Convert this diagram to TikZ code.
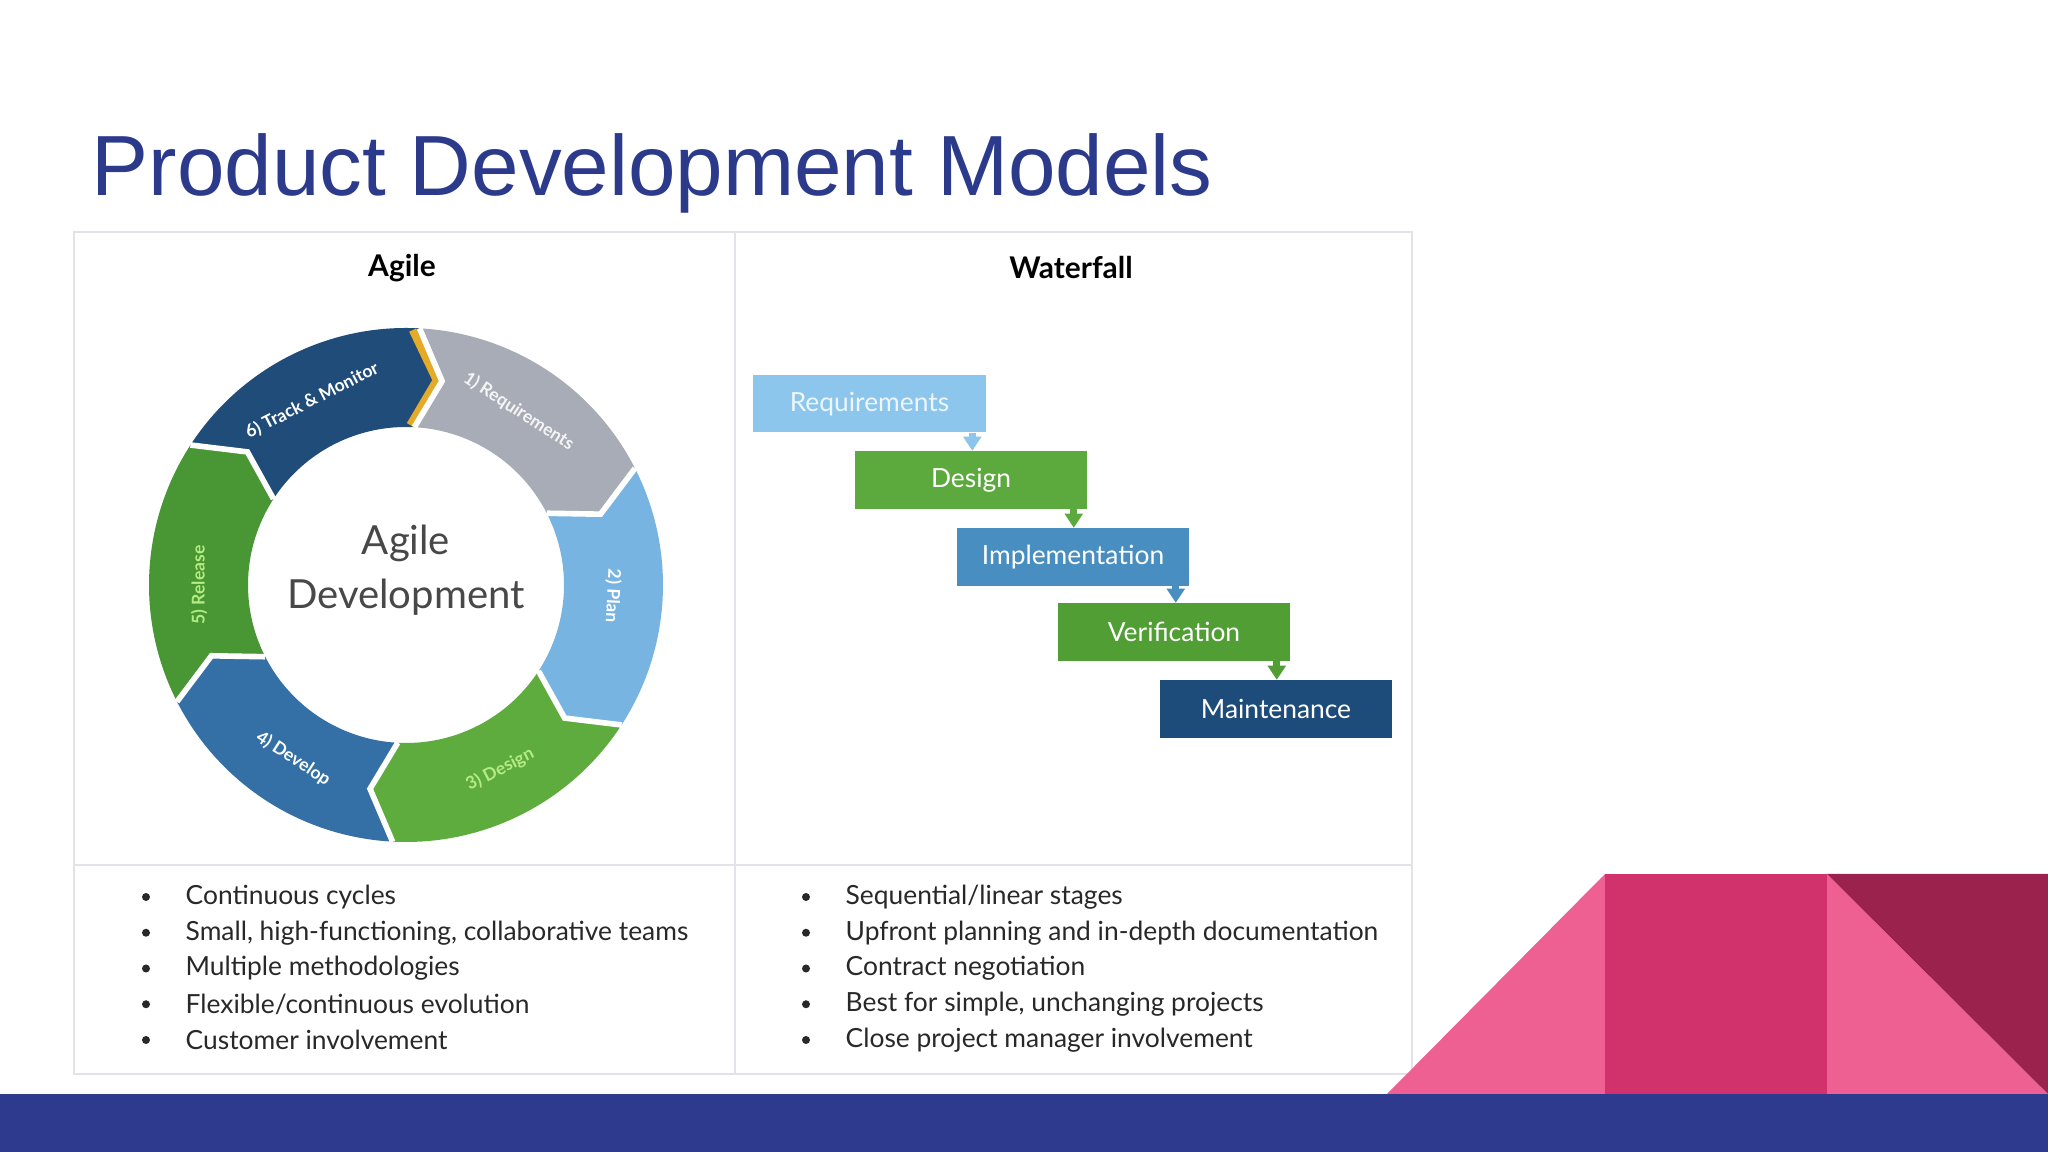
\documentclass[tikz,border=0pt]{standalone}
\usepackage{fontspec}
\setmainfont{Lato}
\newfontfamily\titlefont{Liberation Sans}
\usetikzlibrary{arrows.meta}
\definecolor{titleblue}{RGB}{44,58,140}
\definecolor{barblue}{RGB}{45,58,142}
\definecolor{pinkL}{RGB}{238,96,146}
\definecolor{pinkM}{RGB}{210,50,108}
\definecolor{pinkD}{RGB}{155,34,76}
\definecolor{panelline}{RGB}{226,226,232}
\definecolor{cReq}{RGB}{168,172,182}
\definecolor{cPlan}{RGB}{120,180,225}
\definecolor{cDes}{RGB}{95,172,62}
\definecolor{cDev}{RGB}{52,112,165}
\definecolor{cRel}{RGB}{72,150,52}
\definecolor{cTrk}{RGB}{32,76,122}
\definecolor{cGold}{RGB}{228,170,40}
\definecolor{wReq}{RGB}{140,198,236}
\definecolor{wDes}{RGB}{92,170,62}
\definecolor{wImp}{RGB}{72,142,192}
\definecolor{wVer}{RGB}{80,158,52}
\definecolor{wMai}{RGB}{30,76,122}
\definecolor{lgreen}{RGB}{180,235,130}
\definecolor{txt}{RGB}{40,40,40}
\tikzset{
  wbox/.style={minimum width=2.32cm,minimum height=0.57cm,inner sep=0pt,text=white,font=\fontsize{7.5}{9}\selectfont},
  warr/.style={-{Triangle[width=5pt,length=4pt]},line width=2pt},
  seg/.style={draw=white,line width=1.6pt},
  seglabel/.style={font=\fontsize{5}{6}\selectfont\bfseries,inner sep=0pt},
  bullet/.style={anchor=west,inner sep=0pt,font=\fontsize{7.5}{9}\selectfont,text=txt},
  hdr/.style={font=\fontsize{8.5}{10}\selectfont\bfseries,text=black}
}
\newcommand{\wseg}[3]{\fill[#3] (#1:257) arc (#1:#2:257) -- ({#2-7}:207) -- (#2:158) arc (#2:#1:158) -- ({#1-7}:207) -- cycle;
  \draw[seg] (#1:257) -- ({#1-7}:207) -- (#1:158);}
\begin{document}
\begin{tikzpicture}[x=0.01cm,y=0.01cm]
\useasboundingbox (0,0) rectangle (2048,1152);
\fill[white] (0,0) rectangle (2048,1152);
% title
\node[anchor=base west,inner sep=0pt,text=titleblue,font=\titlefont\fontsize{24.3}{29}\selectfont] (title) at (91,956) {Product Development Models};
% panel
\draw[panelline,line width=0.8pt] (74,78) rectangle (1412,920);
\draw[panelline,line width=0.8pt] (735,78) -- (735,920);
\draw[panelline,line width=0.8pt] (74,287) -- (1412,287);
\node[hdr] (hAgile) at (402,884) {Agile};
\node[hdr] (hWater) at (1071,884) {Waterfall};
% wheel
\begin{scope}[shift={(406,567)}]
\wseg{87}{27}{cReq}
\wseg{27}{-33}{cPlan}
\wseg{-33}{-93}{cDes}
\wseg{-93}{-153}{cDev}
\wseg{-153}{-213}{cRel}
\wseg{147}{87}{cTrk}
\draw[cGold,line width=2.2pt] (88.5:255) -- (81.5:207) -- (88.5:160);
\draw[seg] (87:257) -- (80:207) -- (87:158);
\node[seglabel,text=white!92!gray,rotate=-33] (l1) at (57:207) {1) Requirements};
\node[seglabel,text=white,rotate=-93] (l2) at (-3:207) {2) Plan};
\node[seglabel,text=lgreen,rotate=27] (l3) at (-63:207) {3) Design};
\node[seglabel,text=white,rotate=-33] (l4) at (-123:207) {4) Develop};
\node[seglabel,text=lgreen,rotate=90] (l5) at (180:207) {5) Release};
\node[seglabel,text=white,rotate=27] (l6) at (117:207) {6) Track \& Monitor};
\node[text=txt!85!white,font=\fontsize{11.4}{13.5}\selectfont,align=center,inner sep=0pt] (center) at (0,15) {Agile\\[2pt]Development};
\end{scope}
% waterfall
\node[wbox,fill=wReq,text=white!85!wReq] (r) at (869.5,748) {Requirements};
\node[wbox,fill=wDes] (d) at (971,672) {Design};
\node[wbox,fill=wImp] (i) at (1073,595) {Implementation};
\node[wbox,fill=wVer] (v) at (1174,520) {Verification};
\node[wbox,fill=wMai] (m) at (1276,443) {Maintenance};
\draw[warr,wReq] ([xshift=-0.14cm]r.south east) -- ([xshift=-0.14cm]r.south east |- d.north);
\draw[warr,wDes] ([xshift=-0.14cm]d.south east) -- ([xshift=-0.14cm]d.south east |- i.north);
\draw[warr,wImp] ([xshift=-0.14cm]i.south east) -- ([xshift=-0.14cm]i.south east |- v.north);
\draw[warr,wVer] ([xshift=-0.14cm]v.south east) -- ([xshift=-0.14cm]v.south east |- m.north);
% bullets
\foreach \t [count=\k] in {Continuous cycles,{Small, high-functioning, collaborative teams},Multiple methodologies,Flexible/continuous evolution,Customer involvement}{
  \node[bullet] (ab\k) at (185,{255-35.75*(\k-1)}) {\t};
  \fill[txt] (146,{255-35.75*(\k-1)}) circle (4);
}
\foreach \t [count=\k] in {Sequential/linear stages,Upfront planning and in-depth documentation,Contract negotiation,{Best for simple, unchanging projects},Close project manager involvement}{
  \node[bullet] (wb\k) at (845,{255-35.75*(\k-1)}) {\t};
  \fill[txt] (806,{255-35.75*(\k-1)}) circle (4);
}
% decoration
\fill[pinkL] (1387,58) -- (1605,278) -- (1605,58) -- cycle;
\fill[pinkM] (1605,58) rectangle (1827,278);
\fill[pinkL] (1827,58) -- (1827,278) -- (2048,58) -- cycle;
\fill[pinkD] (1827,278) -- (2048,278) -- (2048,58) -- cycle;
\fill[barblue] (0,0) rectangle (2048,58);
\end{tikzpicture}
\end{document}
